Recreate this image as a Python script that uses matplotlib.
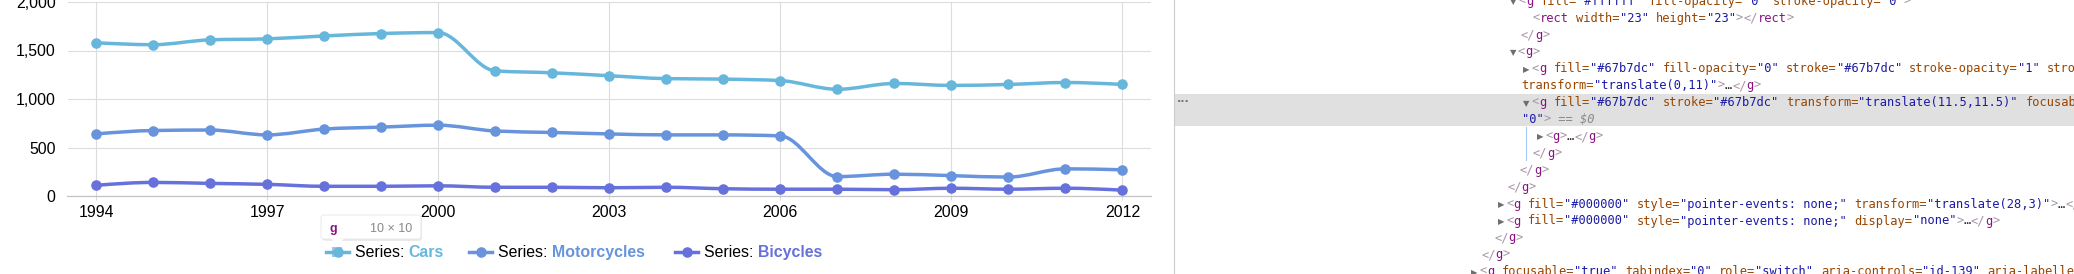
import re
import numpy as np
import matplotlib
matplotlib.use("Agg")
import matplotlib.pyplot as plt
from matplotlib.path import Path
from matplotlib.patches import PathPatch, Rectangle, FancyBboxPatch, Polygon
from matplotlib.lines import Line2D
from matplotlib.transforms import Affine2D

plt.rcParams["font.family"] = ["Liberation Sans", "DejaVu Sans"]

W, H = 2074, 274

# data
years = list(range(1994, 2013))
cars = [1580, 1560, 1610, 1620, 1650, 1675, 1685, 1290, 1270, 1240, 1210, 1205,
        1190, 1100, 1160, 1140, 1150, 1170, 1150]
motorcycles = [640, 675, 680, 630, 690, 710, 730, 670, 655, 640, 630, 630,
               620, 200, 225, 210, 195, 280, 270]
bicycles = [110, 140, 130, 120, 100, 100, 105, 90, 90, 85, 90, 75,
            70, 70, 65, 80, 70, 80, 60]
series_names = ["Cars", "Motorcycles", "Bicycles"]
series_colors = ["#67b7dc", "#6794dc", "#6771dc"]
y_ticks = [0, 500, 1000, 1500, 2000]
x_ticks = years[::3]

# devtools panel lines: (text x, triangle glyph, text)
dev_lines = [
    (1518.6, "▼", '<g fill="#ffffff" fill-opacity="0" stroke-opacity="0">'),
    (1532.7, "", '<rect width="23" height="23"></rect>'),
    (1520.8, "", "</g>"),
    (1518.0, "▼", "<g>"),
    (1531.8, "▶", '<g fill="#67b7dc" fill-opacity="0" stroke="#67b7dc" stroke-opacity="1" stroke-width="3"'),
    (1521.7, "", 'transform="translate(0,11)">…</g>'),
    (1531.8, "▼", '<g fill="#67b7dc" stroke="#67b7dc" transform="translate(11.5,11.5)" focusable="true" tabindex='),
    (1521.7, "", '"0"> == $0'),
    (1545.0, "▶", "<g>…</g>"),
    (1532.7, "", "</g>"),
    (1519.9, "", "</g>"),
    (1507.0, "", "</g>"),
    (1506.2, "▶", '<g fill="#000000" style="pointer-events: none;" transform="translate(28,3)">…</g>'),
    (1506.2, "▶", '<g fill="#000000" style="pointer-events: none;" display="none">…</g>'),
    (1494.2, "", "</g>"),
    (1481.0, "", "</g>"),
    (1479.6, "▶", '<g focusable="true" tabindex="0" role="switch" aria-controls="id-139" aria-labelledby="id-140">'),
]


def monotone_path(xs, ys):
    # cubic bezier path through the points, monotone in x (like d3 curveMonotoneX)
    x = np.asarray(xs, float)
    y = np.asarray(ys, float)
    n = len(x)
    h = np.diff(x)
    s = np.diff(y) / h
    t = np.zeros(n)
    for i in range(1, n - 1):
        p = (s[i - 1] * h[i] + s[i] * h[i - 1]) / (h[i - 1] + h[i])
        t[i] = (np.sign(s[i - 1]) + np.sign(s[i])) * min(abs(s[i - 1]), abs(s[i]), 0.5 * abs(p))
    t[0] = (3 * s[0] - t[1]) / 2
    t[-1] = (3 * s[-1] - t[-2]) / 2
    verts = [(x[0], y[0])]
    codes = [Path.MOVETO]
    for i in range(n - 1):
        dx = (x[i + 1] - x[i]) / 3
        verts += [(x[i] + dx, y[i] + dx * t[i]),
                  (x[i + 1] - dx, y[i + 1] - dx * t[i + 1]),
                  (x[i + 1], y[i + 1])]
        codes += [Path.CURVE4] * 3
    return Path(verts, codes)


fig = plt.figure(figsize=(W / 100, H / 100), dpi=100)
fig.patch.set_facecolor("white")
pix = Affine2D().scale(1 / W, -1 / H).translate(0, 1) + fig.transFigure

# ---- chart ----
ax = fig.add_axes([67.5 / W, 78 / H, (1151 - 67.5) / W, 194 / H])
ax.set_xlim(1993.5, 2012.5)
ax.set_ylim(0, 2000)
ax.set_axisbelow(True)
ax.grid(True, color="#dcdcdc", lw=0.8)
for side in ["top", "right", "left"]:
    ax.spines[side].set_visible(False)
ax.spines["bottom"].set_color("#c4c4c4")
ax.spines["bottom"].set_linewidth(0.9)
ax.set_yticks(y_ticks)
ax.set_yticklabels(["{:,}".format(v) for v in y_ticks])
ax.set_xticks(x_ticks)
ax.tick_params(axis="y", length=0, pad=8.6, labelsize=11.4, labelcolor="#000000")
ax.tick_params(axis="x", length=2.9, width=0.8, color="#dcdcdc", pad=3.3,
               labelsize=11.4, labelcolor="#000000")

for vals, col in zip([cars, motorcycles, bicycles], series_colors):
    ax.add_patch(PathPatch(monotone_path(years, vals), fill=False, edgecolor=col,
                           lw=2.5, capstyle="round", joinstyle="round", zorder=3))
    ax.plot(years, vals, linestyle="none", marker="o", markersize=7.6,
            markerfacecolor=col, markeredgecolor=col, markeredgewidth=0, zorder=4)

# ---- legend ----
renderer = fig.canvas.get_renderer()
legend_x = [326, 469, 675]
for lx, name, col in zip(legend_x, series_names, series_colors):
    fig.add_artist(Line2D([lx, lx + 23], [252, 252], color=col, lw=2.5, transform=pix))
    fig.add_artist(Line2D([lx + 11.5], [252], marker="o", markersize=7.6, color=col,
                          markeredgewidth=0, transform=pix))
    t1 = fig.text(lx + 29, 257, "Series: ", fontsize=11.4, color="#000000",
                  ha="left", va="baseline", transform=pix)
    bb = t1.get_window_extent(renderer)
    fig.text(bb.x1 / W, 1 - (257 / H), name, fontsize=11.4, color=col,
             fontweight="bold", ha="left", va="baseline")

# devtools hover highlight on the first legend marker
fig.add_artist(Rectangle((332, 247), 10, 10, facecolor="#6fa8dc", alpha=0.66,
                         edgecolor="none", transform=pix))

# devtools tooltip "g 10 × 10"
fig.add_artist(FancyBboxPatch((322, 217), 100, 24, boxstyle="round,pad=0,rounding_size=3",
                              facecolor="#000000", alpha=0.08, edgecolor="none", transform=pix))
fig.add_artist(FancyBboxPatch((321, 215), 100, 24, boxstyle="round,pad=0,rounding_size=3",
                              facecolor="white", edgecolor="#e6e6e6", lw=0.6, transform=pix))
fig.add_artist(Polygon([(331, 238.5), (337.5, 245), (344, 238.5)], closed=True,
                       facecolor="white", edgecolor="none", transform=pix))
fig.text(329, 232, "g", fontsize=9, color="#881280", fontweight="bold",
         ha="left", va="baseline", transform=pix)
fig.text(412, 232, "10 × 10", fontsize=9, color="#888888",
         ha="right", va="baseline", transform=pix)

# ---- devtools panel ----
fig.add_artist(Line2D([1174, 1174], [0, H], color="#cbcbcb", lw=0.8, transform=pix))
fig.add_artist(Rectangle((1174.5, 94), W - 1174, 32, facecolor="#e0e0e0",
                         edgecolor="none", transform=pix))
fig.text(1177, 105, "···", fontsize=8, color="#777777", fontweight="bold",
         ha="left", va="baseline", family="DejaVu Sans", transform=pix)
fig.add_artist(Line2D([1526, 1526], [127, 160], color="#a8c7fa", lw=0.8, transform=pix))

mono_pt = 8.68
char_w = 0.6021 * mono_pt * 100 / 72
tok = re.compile(r'(</?)([\w]+)|([\w-]+=)|("[^"]*")|(/?>)|(…)|( == \$0)|(\s+)|(.)')
for i, (tx, tri, line) in enumerate(dev_lines):
    base = 0.8 + 16.9 * i + 4
    if tri:
        fig.text(tx - 8.5, base - 0.5, tri, fontsize=6, color="#6e6e6e",
                 family="DejaVu Sans", ha="left", va="baseline", transform=pix)
    col_i = 0
    for m in tok.finditer(line):
        if m.group(1):
            pieces = [(m.group(1), "#a894a6", "normal"), (m.group(2), "#881280", "normal")]
        elif m.group(3):
            pieces = [(m.group(3), "#994500", "normal")]
        elif m.group(4):
            pieces = [(m.group(4), "#1a1aa6", "normal")]
        elif m.group(5):
            pieces = [(m.group(5), "#a894a6", "normal")]
        elif m.group(6):
            pieces = [(m.group(6), "#333333", "normal")]
        elif m.group(7):
            pieces = [(m.group(7), "#888888", "italic")]
        elif m.group(8):
            col_i += len(m.group(8))
            continue
        else:
            pieces = [(m.group(9), "#222222", "normal")]
        for txt, c, style in pieces:
            fig.text(tx + col_i * char_w, base, txt, fontsize=mono_pt, color=c,
                     family="DejaVu Sans Mono", style=style,
                     ha="left", va="baseline", transform=pix)
            col_i += len(txt)

fig.savefig("out.png", dpi=100, facecolor="white")
